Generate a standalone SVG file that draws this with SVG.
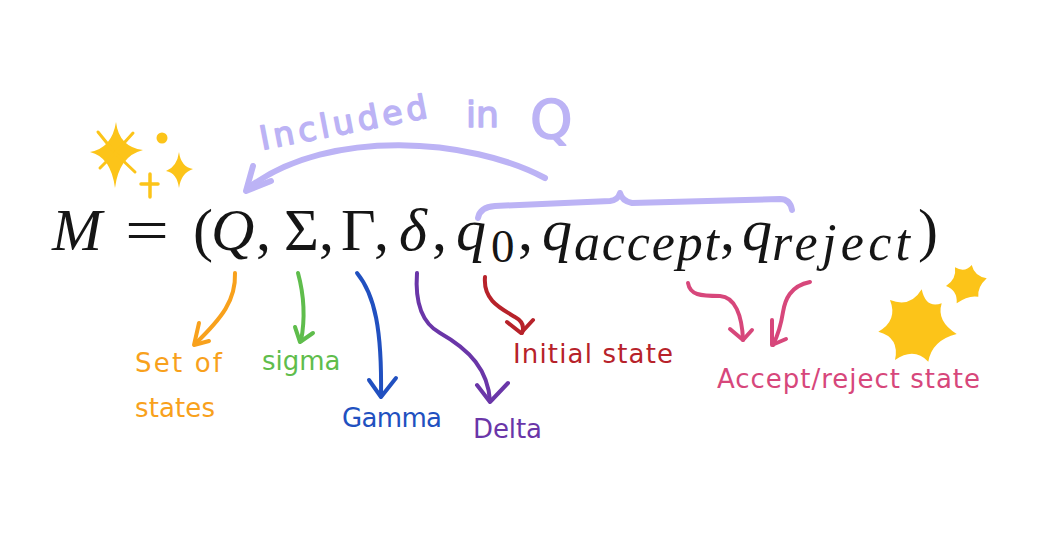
<svg xmlns="http://www.w3.org/2000/svg" width="1052" height="542" viewBox="0 0 1052 542">
<style>
.f{font-family:"Liberation Serif","Times New Roman",serif;fill:#151515;font-size:60px}
.it{font-style:italic}
.sub{font-size:52px}
.z{font-size:47px}
.lbl{font-family:"DejaVu Sans","Noto Sans",sans-serif;font-size:26px}
.arr{fill:none;stroke-width:4;stroke-linecap:round;stroke-linejoin:round}
.lav{fill:none;stroke:#bcb3f5;stroke-width:6;stroke-linecap:round;stroke-linejoin:round}
.hand{font-family:"DejaVu Sans","Noto Sans",sans-serif;fill:#bcb3f5;stroke:#bcb3f5;stroke-width:1.5;stroke-linejoin:round}
.star{fill:#fcc419}
</style>
<rect width="1052" height="542" fill="#ffffff"/>

<g id="formula">
<text class="f it" x="52" y="250">M</text>
<text class="f" x="125" y="250" textLength="44" lengthAdjust="spacingAndGlyphs">=</text>
<text class="f" x="193" y="250">(</text>
<text class="f it" x="211" y="250">Q</text>
<text class="f" x="256" y="250">,</text>
<text class="f" x="284" y="250">Σ</text>
<text class="f" x="319" y="250">,</text>
<text class="f" x="341" y="250">Γ</text>
<text class="f" x="374" y="250">,</text>
<text class="f it" x="399" y="250">δ</text>
<text class="f" x="432" y="250">,</text>
<text class="f it" x="456" y="250">q</text>
<text class="f z" x="491" y="262">0</text>
<text class="f" x="518" y="250">,</text>
<text class="f it" x="542" y="250">q</text>
<text class="f it sub" x="574" y="260" textLength="145">accept</text>
<text class="f" x="720" y="250">,</text>
<text class="f it" x="742" y="250">q</text>
<text class="f it sub" x="772" y="260" textLength="138">reject</text>
<text class="f" x="918" y="250">)</text>
</g>

<g id="note-included-in-q">
<text class="hand" x="262" y="150" font-size="33" textLength="170" transform="rotate(-11 262 150)">Included</text>
<text class="hand" x="466" y="127" font-size="36">in<tspan x="530" y="138" font-size="54">Q</tspan></text>
</g>

<g id="label-set-of-states" fill="#f8a11c">
<text class="lbl" x="135" y="372" textLength="87">Set of</text>
<text class="lbl" x="135" y="417" textLength="80">states</text>
</g>
<g id="label-sigma" fill="#5fbd4c"><text class="lbl" x="262" y="370">sigma</text></g>
<g id="label-gamma" fill="#2150c0"><text class="lbl" x="342" y="427" textLength="100">Gamma</text></g>
<g id="label-delta" fill="#6a36a8"><text class="lbl" x="473" y="438" textLength="69">Delta</text></g>
<g id="label-initial-state" fill="#b7222a"><text class="lbl" x="513" y="363" textLength="160">Initial state</text></g>
<g id="label-accept-reject-state" fill="#d7477b"><text class="lbl" x="717" y="388" textLength="263">Accept/reject state</text></g>

<g id="connectors">
<path class="lav" d="M545,178 C470,138 330,128 251,186"/>
<path class="lav" d="M253,166 L246,191 L271,181"/>
<path class="lav" d="M478,218 Q480,207 495,206 L610,201 Q618,200 620,193 Q622,201 632,203 L780,199 Q790,199 792,210" stroke-width="4"/>
<g stroke="#f8a11c" class="arr"><path d="M235,273 C236,300 222,318 195,344"/><path d="M199,323 L194,345 L209,341"/></g>
<g stroke="#5fbd4c" class="arr"><path d="M298,273 C304,295 305,320 301,341"/><path d="M295,327 L300,342 L313,333"/></g>
<g stroke="#2150c0" class="arr"><path d="M357,273 C375,295 382,330 381,396"/><path d="M369,380 L381,397 L396,378"/></g>
<g stroke="#6a36a8" class="arr"><path d="M417,273 C415,300 420,322 440,333 C470,350 488,370 490,401"/><path d="M477,385 L490,402 L508,383"/></g>
<g stroke="#b7222a" class="arr"><path d="M485,277 C483,300 500,308 515,317 C524,322 524,328 522,333"/><path d="M507,322 L521,333 L533,320"/></g>
<g stroke="#d7477b" class="arr"><path d="M688,283 C690,295 700,296 720,296 C735,297 742,315 743,340"/><path d="M730,329 L743,340 L752,330"/></g>
<g stroke="#d7477b" class="arr"><path d="M810,282 C790,286 785,300 783,312 C781,325 778,335 773,345"/><path d="M772,320 L772,345 L786,339"/></g>
</g>

<g id="sparkles-left">
<path class="star" d="M116,122 Q119,147 143,150 Q119,156 115,188 Q111,157 90,152 Q112,148 116,122 Z"/>
<g stroke="#fcc419" stroke-width="3" stroke-linecap="round">
<line x1="115" y1="153" x2="98" y2="132"/>
<line x1="115" y1="153" x2="133" y2="133"/>
<line x1="115" y1="153" x2="100" y2="168"/>
<line x1="115" y1="153" x2="135" y2="172"/>
<line x1="150" y1="174" x2="150" y2="197" stroke-width="3.5"/>
<line x1="141" y1="184" x2="158" y2="184" stroke-width="3.5"/>
</g>
<circle class="star" cx="162" cy="138" r="5.5"/>
<path class="star" d="M179,152 Q181,167 193,169 Q181,173 179,188 Q177,173 166,171 Q177,167 179,152 Z"/>
</g>

<g id="stars-right">
<path class="star" d="M921.7,289.3 Q925.9,309.1 941.7,303.3 Q936.1,321.2 956.7,334 Q932.1,340.1 928.3,361.7 Q914.2,346.8 895,360 Q899.9,337.4 878.3,331.7 Q898.1,320.5 890,300 Q910.5,308.1 921.7,289.3 Z"/>
<path class="star" d="M971.7,265 Q974.4,276.2 986.7,278.3 Q977.3,287 978.3,296.7 Q968.2,294.9 956.7,303.3 Q957.6,290.2 946,286 Q956.7,279.4 955,267.3 Q964.8,273.2 971.7,265 Z"/>
</g>
</svg>
